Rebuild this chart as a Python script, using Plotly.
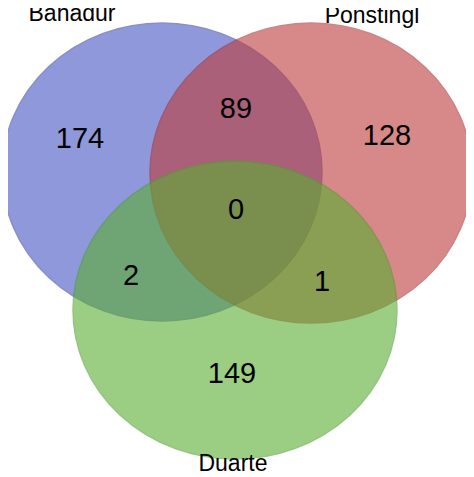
import plotly.graph_objects as go

set_names = ["Bahadur", "Ponstingl", "Duarte"]
counts = ["174", "89", "128", "0", "2", "1", "149"]
# ellipse centre / radii (pixel space)
cx = [162, 311, 235]
cy = [171, 172, 309]
rx = [160, 161, 162]
ry = [149, 150, 149]
fills = ["rgb(70,85,195)", "rgb(190,60,60)", "rgb(90,175,50)"]
lines = ["rgb(60,70,170)", "rgb(170,50,50)", "rgb(80,160,50)"]

count_x = [80, 236, 387, 236, 131, 322, 232]
count_y = [140, 110, 137, 211, 277, 283, 375]
name_x = [72, 372, 233]
name_y = [14, 16, 464]

fig = go.Figure()
for i in range(3):
    fig.add_shape(type="circle", xref="x", yref="y",
                  x0=cx[i] - rx[i], x1=cx[i] + rx[i],
                  y0=cy[i] - ry[i], y1=cy[i] + ry[i],
                  fillcolor=fills[i], opacity=0.6,
                  line=dict(color=lines[i], width=1.5), layer="below")

fig.add_trace(go.Scatter(x=count_x, y=count_y, text=counts, mode="text",
                         textfont=dict(size=29, color="black", family="Liberation Sans"),
                         hoverinfo="skip", cliponaxis=False))
fig.add_trace(go.Scatter(x=name_x, y=name_y, text=set_names, mode="text",
                         textfont=dict(size=23, color="black", family="Liberation Sans"),
                         hoverinfo="skip", cliponaxis=False))

# page body has a default margin, so offset the ranges to line up with the window
fig.update_layout(width=474, height=477, margin=dict(l=0, r=0, t=0, b=0),
                  plot_bgcolor="white", paper_bgcolor="white", showlegend=False,
                  xaxis=dict(range=[8, 482], visible=False),
                  yaxis=dict(range=[484, 7], visible=False))
fig.write_html("out.html")
